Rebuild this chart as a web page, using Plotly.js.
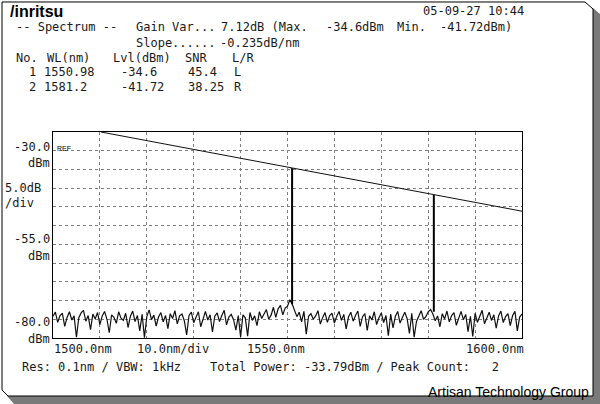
<!DOCTYPE html>
<html>
<head>
<meta charset="utf-8">
<script src="https://cdn.plot.ly/plotly-3.0.1.min.js"></script>
<style>html,body{margin:0;padding:0;background:#fff}#chart{width:600px;height:404px}</style>
</head>
<body>
<div id="chart"></div>
<script>
// ---- data ----
const wlStart = 1500, wlStep = 0.5;            // sampling grid of the noise trace (nm)
const noiseLvl = [
 -74.2,-73.1,-75.8,-74.0,-73.4,-76.9,-74.5,-73.0,-75.2,-74.1,
 -79.8,-74.6,-73.3,-72.6,-75.5,-74.0,-77.8,-73.6,-74.9,-73.2,
 -76.4,-74.1,-72.9,-75.0,-78.6,-73.8,-74.5,-76.1,-73.0,-74.7,
 -75.3,-73.4,-77.2,-74.2,-72.8,-75.6,-74.0,-78.1,-73.7,-79.9,
 -74.3,-72.5,-75.1,-73.9,-76.8,-74.4,-73.2,-75.7,-74.0,-77.5,
 -73.5,-74.8,-72.7,-76.2,-74.1,-73.6,-75.4,-79.2,-74.0,-73.1,
 -75.9,-74.3,-73.0,-77.0,-74.6,-72.9,-75.2,-73.8,-78.4,-74.2,
 -73.3,-75.6,-74.0,-72.6,-76.5,-74.4,-73.7,-75.1,-77.9,-74.0,
 -79.7,-73.8,-74.6,-79.5,-73.2,-75.3,-74.1,-76.7,-73.0,-74.8,
 -73.6,-72.4,-75.0,-73.9,-71.8,-74.5,-72.2,-71.3,-73.8,-72.0,
 -71.5,-69.8,-70.9,-72.8,-74.3,-73.1,-75.7,-72.9,-79.0,-74.2,
 -73.5,-75.0,-74.1,-72.7,-76.3,-74.5,-73.2,-75.8,-74.0,-73.4,
 -76.0,-74.2,-72.9,-75.3,-73.7,-77.6,-74.4,-73.1,-75.5,-74.0,
 -72.8,-76.9,-74.3,-73.5,-78.0,-74.1,-75.2,-73.0,-76.4,-74.6,
 -73.3,-75.9,-74.0,-79.4,-73.6,-77.3,-74.2,-72.9,-76.0,-74.5,
 -73.1,-74.8,-78.8,-73.4,-79.8,-75.6,-73.9,-72.7,-75.0,-74.3,
 -73.0,-72.4,-73.6,-75.4,-74.1,-77.0,-73.5,-74.9,-72.8,-75.7,
 -74.0,-73.2,-76.6,-74.4,-72.9,-75.1,-73.7,-78.3,-74.2,-79.6,
 -73.4,-75.8,-74.0,-72.6,-76.2,-74.5,-73.1,-75.3,-73.8,-77.4,
 -74.1,-72.8,-75.9,-74.3,-73.5,-76.7,-74.0,-72.9,-78.1,-74.4,
 -73.6
];
const peakNo   = [1, 2];
const peakWL   = [1550.98, 1581.2];
const peakLvl  = [-34.6, -41.72];
const peakBase = [-71.0, -73.0];
const peakSNR  = ["45.4", "38.25"];
const peakLR   = ["L", "R"];
const xRange = [1500, 1600], yRange = [-80, -25];
const xTickLabels = ["1500.0nm", "10.0nm/div", "1550.0nm", "1600.0nm"];
const yTickLabels = ["-30.0", "-55.0", "-80.0"];

// ---- traces ----
const noiseWL = noiseLvl.map((_, i) => wlStart + i * wlStep);
const px = [], py = [];
peakWL.forEach((w, i) => { px.push(w, w, null); py.push(peakBase[i], peakLvl[i], null); });
const slope = (peakLvl[1] - peakLvl[0]) / (peakWL[1] - peakWL[0]);
const sx0 = peakWL[0] + (yRange[1] - peakLvl[0]) / slope;
const slopeX = [sx0, xRange[1]];
const slopeY = slopeX.map(x => peakLvl[0] + slope * (x - peakWL[0]));

const traces = [
  {x: noiseWL, y: noiseLvl, mode: 'lines', line: {color: '#111', width: 1.2}, hoverinfo: 'skip'},
  {x: px, y: py, mode: 'lines', line: {color: '#000', width: 2}, hoverinfo: 'skip'},
  {x: slopeX, y: slopeY, mode: 'lines', line: {color: '#111', width: 1}, hoverinfo: 'skip'}
];

// ---- layout helpers (pixel -> paper) ----
const L = 53, R = 522, T = 132, B = 338;
const fx = x => (x - L) / (R - L);
const fy = y => (B - y) / (B - T);
const MONO = '"DejaVu Sans Mono", "Liberation Mono", monospace';
function ann(text, x, y, anchor, size, family, color) {
  return {text: text, x: fx(x), y: fy(y), xref: 'paper', yref: 'paper', showarrow: false,
    xanchor: anchor || 'left', yanchor: 'middle', borderpad: 0,
    font: {family: family || MONO, size: size || 12, color: color || '#1a1a1a'}};
}
function path(pts) {
  return 'M ' + pts.map(p => fx(p[0]).toFixed(5) + ',' + fy(p[1]).toFixed(5)).join(' L ') + ' Z';
}

const annotations = [
  ann('<b>/inritsu</b>', 9, 11, 'left', 16, '"Liberation Sans", Arial, sans-serif', '#000'),
  ann('05-09-27 10:44', 525, 11, 'right', 12),
  ann('-- Spectrum --', 15, 27, 'left', 12),
  ann('Gain Var...', 135, 27, 'left', 12),
  ann('7.12dB (Max.', 220, 27, 'left', 12),
  ann('-34.6dBm', 325, 27, 'left', 12),
  ann('Min.', 396, 27, 'left', 12),
  ann('-41.72dBm)', 439, 27, 'left', 12),
  ann('Slope......', 135, 43, 'left', 12),
  ann('-0.235dB/nm', 219, 43, 'left', 12),
  ann('No.', 15, 58, 'left', 12),
  ann('WL(nm)', 46, 58, 'left', 12),
  ann('Lvl(dBm)', 112, 58, 'left', 12),
  ann('SNR', 184, 58, 'left', 12),
  ann('L/R', 231, 58, 'left', 12),
  ann('REF', 56, 148, 'left', 7, '"Liberation Sans", Arial, sans-serif', '#000'),
  ann(yTickLabels[0], 51, 147, 'right', 12), ann('dBm', 51, 163, 'right', 12),
  ann('5.0dB', 4, 188, 'left', 12), ann('/div', 4, 203, 'left', 12),
  ann(yTickLabels[1], 51, 239, 'right', 12), ann('dBm', 51, 256, 'right', 12),
  ann(yTickLabels[2], 51, 322, 'right', 12), ann('dBm', 51, 339, 'right', 12),
  ann(xTickLabels[0], 53, 349, 'left', 12),
  ann(xTickLabels[1], 136, 349, 'left', 12),
  ann(xTickLabels[2], 246, 349, 'left', 12),
  ann(xTickLabels[3], 525, 349, 'right', 12),
  ann('Res: 0.1nm / VBW: 1kHz', 21, 367, 'left', 12),
  ann('Total Power: -33.79dBm / Peak Count:   2', 209, 367, 'left', 12),
  ann('Artisan Technology Group', 590, 392, 'right', 14, '"Liberation Sans", Arial, sans-serif', '#000')
];
const rowY = [72, 87];
peakWL.forEach((w, i) => {
  annotations.push(ann(String(peakNo[i]), 37, rowY[i], 'right', 12));
  annotations.push(ann(String(w), 43, rowY[i], 'left', 12));
  annotations.push(ann(String(peakLvl[i]), 120, rowY[i], 'left', 12));
  annotations.push(ann(peakSNR[i], 187, rowY[i], 'left', 12));
  annotations.push(ann(peakLR[i], 233, rowY[i], 'left', 12));
});

const shapes = [
  {type: 'path', xref: 'paper', yref: 'paper', layer: 'below',
   path: path([[593, 8], [600, 14], [600, 404], [14, 404], [7, 396], [593, 396]]),
   fillcolor: '#7a7a7a', line: {width: 0}},
  {type: 'path', xref: 'paper', yref: 'paper', layer: 'below',
   path: path([[2, 390], [2, 2], [585, 2], [593, 9], [593, 396], [8, 396]]),
   fillcolor: '#ffffff', line: {color: '#000', width: 1}}
];

const axisCommon = {showline: true, mirror: true, linecolor: '#000', linewidth: 1,
  showgrid: true, gridcolor: '#7f7f7f', gridwidth: 1, griddash: 'dot',
  zeroline: false, showticklabels: false, ticks: '', fixedrange: true};

const layout = {
  width: 600, height: 404,
  margin: {l: L, r: 600 - R, t: T, b: 404 - B, pad: 0},
  paper_bgcolor: '#ffffff', plot_bgcolor: '#ffffff',
  showlegend: false,
  xaxis: Object.assign({}, axisCommon, {range: xRange, dtick: 10, tick0: 1500}),
  yaxis: Object.assign({}, axisCommon, {range: yRange, dtick: 5, tick0: -80}),
  annotations: annotations,
  shapes: shapes
};

Plotly.newPlot('chart', traces, layout, {displayModeBar: false, staticPlot: true});
</script>
</body>
</html>
